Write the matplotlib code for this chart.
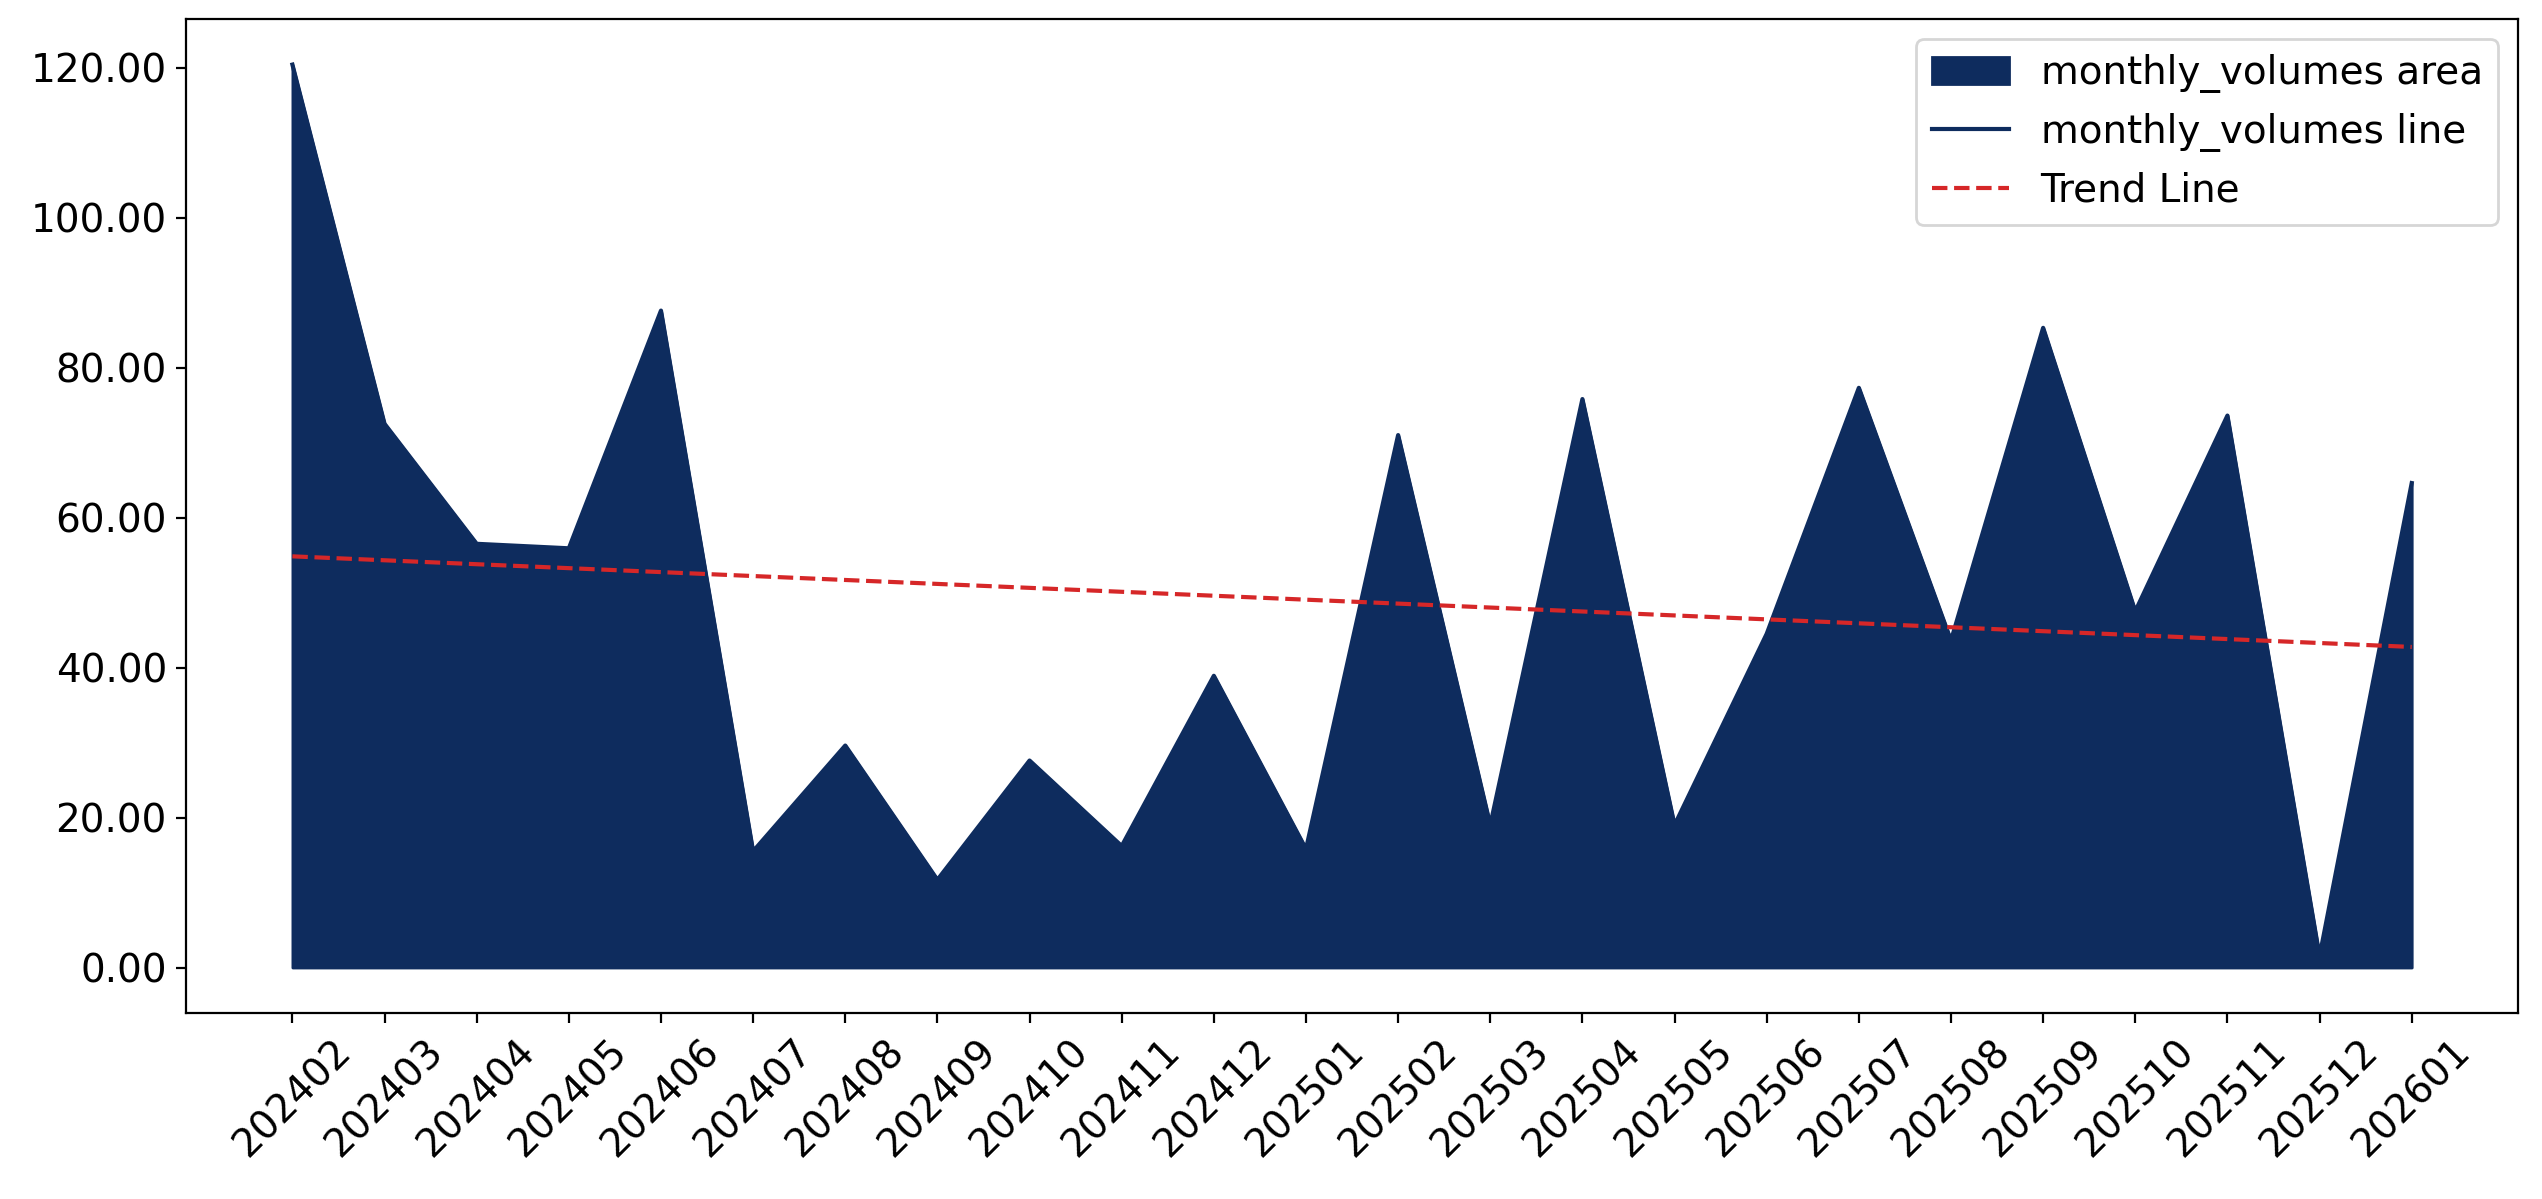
import matplotlib
matplotlib.use("Agg")
import matplotlib.pyplot as plt
import numpy as np

months = ["202402","202403","202404","202405","202406","202407","202408","202409","202410","202411","202412","202501","202502","202503","202504","202505","202506","202507","202508","202509","202510","202511","202512","202601"]
volumes = [120.4,72.5,56.5,55.9,87.6,15.5,29.6,11.7,27.6,16.2,38.9,15.8,71.0,19.0,75.8,19.0,44.5,77.3,43.6,85.3,47.5,73.6,1.5,64.6]

color = "#0e2c5e"
fig = plt.figure(figsize=(12.71, 5.995), dpi=200)
W, H = 1568, 740
ax = fig.add_axes([115/W, 1-625/H, (1553-115)/W, (625-12)/H])
x = np.arange(len(months))
ax.fill_between(x, volumes, 0, color=color, label="monthly_volumes area")
ax.plot(x, volumes, color=color, lw=1.5, label="monthly_volumes line")
coef = np.polyfit(x, volumes, 1)
ax.plot(x, np.polyval(coef, x), "--", color="#d62728", lw=1.5, label="Trend Line")
ax.set_xticks(x)
ax.set_xticklabels(months, rotation=45, fontsize=14)
ax.tick_params(axis="y", labelsize=14)
ax.yaxis.set_major_formatter(matplotlib.ticker.FormatStrFormatter("%.2f"))
ax.legend(fontsize=14, loc="upper right")
fig.savefig("out.png", dpi=200)
